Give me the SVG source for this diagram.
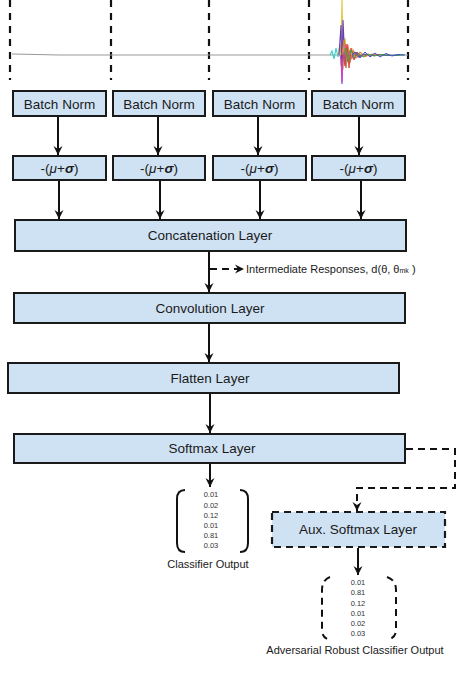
<svg xmlns="http://www.w3.org/2000/svg" width="474" height="677" viewBox="0 0 474 677">
<defs>
<marker id="ah" markerWidth="10" markerHeight="10" refX="9" refY="5" orient="auto" markerUnits="userSpaceOnUse">
<path d="M0,0.5 L9,5 L0,9.5 L3,5 Z" fill="#111"/>
</marker>
</defs>
<style>
.box{fill:#cfe2f3;stroke:#1a1a1a;stroke-width:2}
.dbox{fill:#cfe2f3;stroke:#1a1a1a;stroke-width:2.2;stroke-dasharray:7,5}
.t{font-family:"Liberation Sans",Arial,sans-serif;fill:#1a1a1a;text-anchor:middle}
.l{font-size:13.5px}
.m{font-size:13.5px}
.n{font-size:7.5px;fill:#333}
.s{font-size:11px}
.c{stroke:#111;stroke-width:2;fill:none}
.d{stroke:#111;stroke-width:2;fill:none;stroke-dasharray:7,5}
.vd{stroke:#111;stroke-width:2.2;stroke-dasharray:7,6}
</style>
<rect width="474" height="677" fill="#fff"/>
<g id="signals">
<line class="vd" x1="10" y1="0" x2="10" y2="80"/>
<line class="vd" x1="111" y1="0" x2="111" y2="80"/>
<line class="vd" x1="209" y1="0" x2="209" y2="80"/>
<line class="vd" x1="309" y1="0" x2="309" y2="80"/>
<line class="vd" x1="408" y1="0" x2="408" y2="80"/>
<polyline points="12,54 60,55 110,55 160,55 209,55 260,55 309,55 408,55" stroke="#999" stroke-width="1" fill="none"/>
<polyline points="330,55 332,51 334,59 336,48 338,57 340,46 342,62 344,53 346,68 348,55 352,57 356,55" stroke="#3cc" stroke-width="1.1" fill="none"/>
<polyline points="338,55 340,44 341,66 342,0 343,70 345,38 347,60 349,50 352,58 356,53 360,56 366,54 375,55.5 390,55" stroke="#e0c020" stroke-width="1.1" fill="none"/>
<polyline points="339,55 341,25 342,84 343,20 345,64 347,47 350,60 354,52 358,57 364,54 370,56 378,54.5 388,55.5 400,55" stroke="#6040c0" stroke-width="1.1" fill="none"/>
<polyline points="340,55 341,60 342,82 343,58 345,44 347,62 349,51 352,58 355,53" stroke="#d040d0" stroke-width="1.1" fill="none"/>
<polyline points="342,55 344,40 346,68 348,45 350,63 353,50 356,58 360,52 365,56.5 372,54 380,55.5" stroke="#e08030" stroke-width="1.1" fill="none"/>
<polyline points="343,55 345,66 347,44 349,68 351,48 354,60 357,52 361,57" stroke="#e04040" stroke-width="1" fill="none"/>
<polyline points="344,55 346,48 348,62 351,50 354,58 358,53 363,57 368,54 374,56 382,54.5 392,55.5 404,55" stroke="#40a040" stroke-width="1" fill="none"/>
<polyline points="352,55 356,52 360,58 365,52 370,57 375,53 380,57 386,53.5 392,56 398,54.5 405,55" stroke="#4050d0" stroke-width="1" fill="none"/>
</g>
<g id="connectors">
<line class="c" x1="58" y1="117" x2="58" y2="155" marker-end="url(#ah)"/>
<line class="c" x1="158" y1="117" x2="158" y2="155" marker-end="url(#ah)"/>
<line class="c" x1="258" y1="117" x2="258" y2="155" marker-end="url(#ah)"/>
<line class="c" x1="359" y1="117" x2="359" y2="155" marker-end="url(#ah)"/>
<line class="c" x1="59" y1="181" x2="59" y2="219" marker-end="url(#ah)"/>
<line class="c" x1="160" y1="181" x2="160" y2="219" marker-end="url(#ah)"/>
<line class="c" x1="260" y1="181" x2="260" y2="219" marker-end="url(#ah)"/>
<line class="c" x1="361" y1="181" x2="361" y2="219" marker-end="url(#ah)"/>
<line class="c" x1="209" y1="252" x2="209" y2="292" marker-end="url(#ah)"/>
<line class="d" x1="210" y1="269" x2="244" y2="269" marker-end="url(#ah)"/>
<line class="c" x1="209" y1="324" x2="209" y2="362" marker-end="url(#ah)"/>
<line class="c" x1="210" y1="394" x2="210" y2="433" marker-end="url(#ah)"/>
<line class="c" x1="210" y1="464" x2="210" y2="487" marker-end="url(#ah)"/>
<polyline class="d" points="406,449 455,449 455,488 357,488 357,511" marker-end="url(#ah)"/>
<line class="c" x1="358" y1="548" x2="358" y2="575" marker-end="url(#ah)"/>
</g>
<g id="bn1"><rect class="box" x="13" y="91" width="93" height="25"/><text class="t m" x="59.5" y="108.5">Batch Norm</text></g>
<g id="bn2"><rect class="box" x="113" y="91" width="92" height="25"/><text class="t m" x="159" y="108.5">Batch Norm</text></g>
<g id="bn3"><rect class="box" x="213" y="91" width="93" height="25"/><text class="t m" x="259.5" y="108.5">Batch Norm</text></g>
<g id="bn4"><rect class="box" x="312" y="91" width="93" height="25"/><text class="t m" x="358.5" y="108.5">Batch Norm</text></g>
<g id="mu1"><rect class="box" x="13" y="156" width="93" height="24"/><text class="t m" x="59.5" y="173">-(<tspan font-style="italic">μ</tspan>+<tspan font-style="italic" font-weight="bold">σ</tspan>)</text></g>
<g id="mu2"><rect class="box" x="113" y="156" width="92" height="24"/><text class="t m" x="159" y="173">-(<tspan font-style="italic">μ</tspan>+<tspan font-style="italic" font-weight="bold">σ</tspan>)</text></g>
<g id="mu3"><rect class="box" x="213" y="156" width="93" height="24"/><text class="t m" x="259.5" y="173">-(<tspan font-style="italic">μ</tspan>+<tspan font-style="italic" font-weight="bold">σ</tspan>)</text></g>
<g id="mu4"><rect class="box" x="312" y="156" width="93" height="24"/><text class="t m" x="358.5" y="173">-(<tspan font-style="italic">μ</tspan>+<tspan font-style="italic" font-weight="bold">σ</tspan>)</text></g>
<g id="concat"><rect class="box" x="15" y="220" width="391" height="31"/><text class="t l" x="210" y="240">Concatenation Layer</text></g>
<g id="inter"><text class="t s" x="246" y="273" style="text-anchor:start">Intermediate Responses, d(θ, θ<tspan font-size="7px">mk</tspan> )</text></g>
<g id="conv"><rect class="box" x="14" y="293" width="391" height="30"/><text class="t l" x="210" y="313">Convolution Layer</text></g>
<g id="flatten"><rect class="box" x="8" y="363" width="391" height="30"/><text class="t l" x="210" y="383">Flatten Layer</text></g>
<g id="softmax"><rect class="box" x="14" y="434" width="391" height="29"/><text class="t l" x="212" y="453">Softmax Layer</text></g>
<g id="aux"><rect class="dbox" x="272" y="512" width="173" height="35"/><text class="t l" x="358" y="534">Aux. Softmax Layer</text></g>
<g id="classifier">
<path d="M185,490 Q177,490 177,499 L177,543 Q177,552 185,552" class="c" stroke-width="2.5"/>
<path d="M240,490 Q248,490 248,499 L248,543 Q248,552 240,552" class="c" stroke-width="2.5"/>
<text class="t n" x="211" y="497">0.01</text>
<text class="t n" x="211" y="507.5">0.02</text>
<text class="t n" x="211" y="518">0.12</text>
<text class="t n" x="211" y="528">0.01</text>
<text class="t n" x="211" y="538">0.81</text>
<text class="t n" x="211" y="548">0.03</text>
<text class="t s" x="208" y="568">Classifier Output</text>
</g>
<g id="adversarial">
<path d="M330,577 Q322,580 322,590 L322,630 Q322,638 330,640" class="d" stroke-width="2.5"/>
<path d="M387,577 Q396,580 396,590 L396,630 Q396,638 387,640" class="d" stroke-width="2.5"/>
<text class="t n" x="358" y="585">0.01</text>
<text class="t n" x="358" y="595">0.81</text>
<text class="t n" x="358" y="605.5">0.12</text>
<text class="t n" x="358" y="615.5">0.01</text>
<text class="t n" x="358" y="625.5">0.02</text>
<text class="t n" x="358" y="635.5">0.03</text>
<text class="t s" x="355" y="654">Adversarial Robust Classifier Output</text>
</g>
</svg>
